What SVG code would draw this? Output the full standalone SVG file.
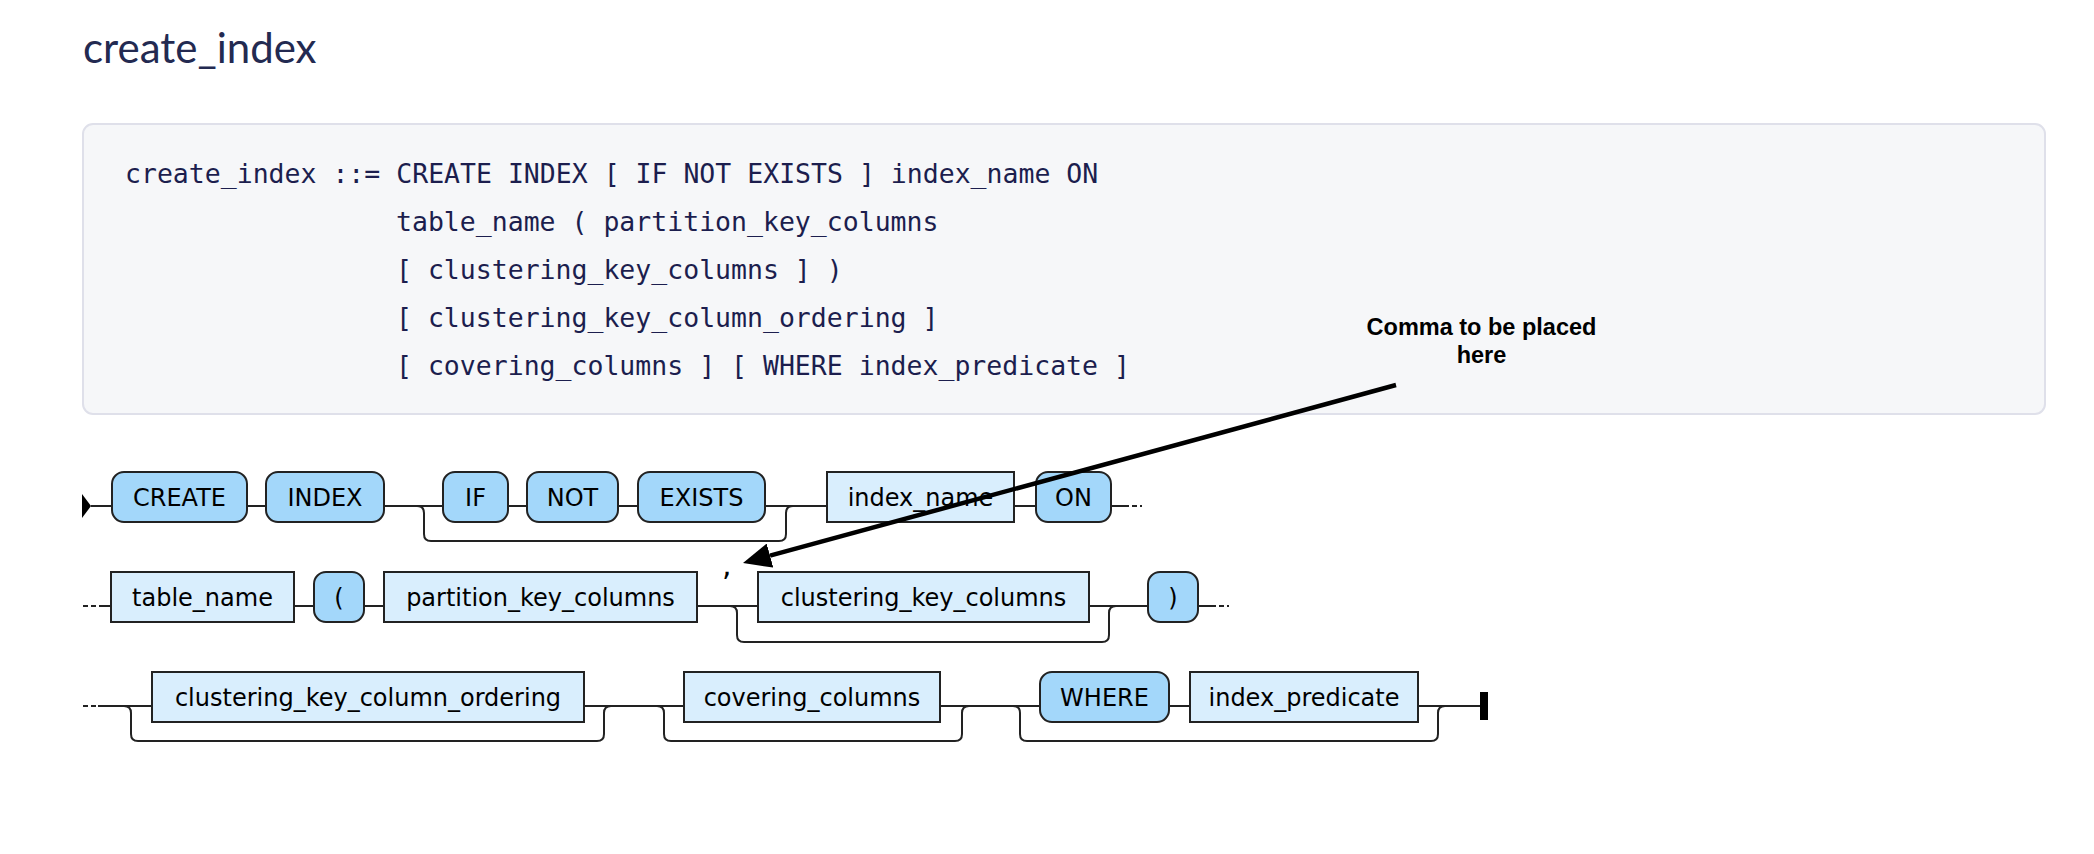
<svg xmlns="http://www.w3.org/2000/svg" width="2094" height="854" viewBox="0 0 2094 854">
<style>
.title{font-family:Lato,"Open Sans","Noto Sans",sans-serif;font-size:42px;fill:#232a51}
.code{font-family:"DejaVu Sans Mono","Liberation Mono",monospace;font-size:26.5px;fill:#1c1e4e}
.term{fill:#a3d7fa;stroke:#222;stroke-width:2}
.nonterm{fill:#d9eefd;stroke:#222;stroke-width:2}
.lbl{font-family:"DejaVu Sans",Verdana,sans-serif;font-size:24px;fill:#000;text-anchor:middle}
.wire{fill:none;stroke:#222;stroke-width:2}
.dash{fill:none;stroke:#222;stroke-width:2;stroke-dasharray:5 3}
.note{font-family:"Liberation Sans",Arial,sans-serif;font-weight:bold;font-size:23.5px;fill:#000;text-anchor:middle}
</style>
<defs>
<marker id="ah" viewBox="0 0 28 25" refX="0" refY="12.5" markerWidth="28" markerHeight="25" markerUnits="userSpaceOnUse" orient="auto">
<path d="M0,0 L28,12.5 L0,25 z" fill="#000"/>
</marker>
</defs>
<rect width="2094" height="854" fill="#fff"/>
<text class="title" x="83" y="63">create_index</text>
<g id="grammar">
<rect x="83" y="124" width="1962" height="290" rx="10" fill="#f6f7f9" stroke="#dfe0ea" stroke-width="2"/>
<text class="code" x="125" y="182.7">create_index ::= CREATE INDEX [ IF NOT EXISTS ] index_name ON</text>
<text class="code" x="396" y="230.7">table_name ( partition_key_columns</text>
<text class="code" x="396" y="278.7">[ clustering_key_columns ] )</text>
<text class="code" x="396" y="326.7">[ clustering_key_column_ordering ]</text>
<text class="code" x="396" y="374.7">[ covering_columns ] [ WHERE index_predicate ]</text>
</g>
<g id="connectors">
<polygon points="82,494 91,506 82,518" fill="#000"/>
<path class="wire" d="M91 506H112M247 506H266M384 506H443M508 506H527M618 506H638M765 506H827M1014 506H1036M1111 506H1124"/>
<path class="dash" d="M1124 506H1142"/>
<path class="wire" d="M417 506q7 0 7 7V534q0 7 7 7H779q7 0 7 -7V513q0 -7 7 -7"/>
<path class="dash" d="M83 606H99"/>
<path class="wire" d="M99 606H111M294 606H314M364 606H384M697 606H758M1089 606H1148M1198 606H1211"/>
<path class="dash" d="M1211 606H1229"/>
<path class="wire" d="M730 606q7 0 7 7V635q0 7 7 7H1102q7 0 7 -7V613q0 -7 7 -7"/>
<path class="dash" d="M83 706H98"/>
<path class="wire" d="M98 706H152M584 706H684M940 706H1040M1169 706H1190M1418 706H1480"/>
<path class="wire" d="M124 706q7 0 7 7V734q0 7 7 7H597q7 0 7 -7V713q0 -7 7 -7"/>
<path class="wire" d="M657 706q7 0 7 7V734q0 7 7 7H955q7 0 7 -7V713q0 -7 7 -7"/>
<path class="wire" d="M1013 706q7 0 7 7V734q0 7 7 7H1431q7 0 7 -7V713q0 -7 7 -7"/>
<rect x="1480" y="692" width="8" height="28" fill="#000"/>
</g>
<g id="n-create"><rect class="term" x="112" y="472" width="135" height="50" rx="12"/><text class="lbl" x="179.5" y="506">CREATE</text></g>
<g id="n-index"><rect class="term" x="266" y="472" width="118" height="50" rx="12"/><text class="lbl" x="325" y="506">INDEX</text></g>
<g id="n-if"><rect class="term" x="443" y="472" width="65" height="50" rx="12"/><text class="lbl" x="475.5" y="506">IF</text></g>
<g id="n-not"><rect class="term" x="527" y="472" width="91" height="50" rx="12"/><text class="lbl" x="572.5" y="506">NOT</text></g>
<g id="n-exists"><rect class="term" x="638" y="472" width="127" height="50" rx="12"/><text class="lbl" x="701.5" y="506">EXISTS</text></g>
<g id="n-index_name"><rect class="nonterm" x="827" y="472" width="187" height="50"/><text class="lbl" x="920.5" y="506">index_name</text></g>
<g id="n-on"><rect class="term" x="1036" y="472" width="75" height="50" rx="12"/><text class="lbl" x="1073.5" y="506">ON</text></g>
<g id="n-table_name"><rect class="nonterm" x="111" y="572" width="183" height="50"/><text class="lbl" x="202.5" y="606">table_name</text></g>
<g id="n-lparen"><rect class="term" x="314" y="572" width="50" height="50" rx="12"/><text class="lbl" x="339" y="606">(</text></g>
<g id="n-partition"><rect class="nonterm" x="384" y="572" width="313" height="50"/><text class="lbl" x="540.5" y="606">partition_key_columns</text></g>
<g id="n-clustering"><rect class="nonterm" x="758" y="572" width="331" height="50"/><text class="lbl" x="923.5" y="606">clustering_key_columns</text></g>
<g id="n-rparen"><rect class="term" x="1148" y="572" width="50" height="50" rx="12"/><text class="lbl" x="1173" y="606">)</text></g>
<g id="n-ordering"><rect class="nonterm" x="152" y="672" width="432" height="50"/><text class="lbl" x="368" y="706">clustering_key_column_ordering</text></g>
<g id="n-covering"><rect class="nonterm" x="684" y="672" width="256" height="50"/><text class="lbl" x="812" y="706">covering_columns</text></g>
<g id="n-where"><rect class="term" x="1040" y="672" width="129" height="50" rx="12"/><text class="lbl" x="1104.5" y="706">WHERE</text></g>
<g id="n-predicate"><rect class="nonterm" x="1190" y="672" width="228" height="50"/><text class="lbl" x="1304" y="706">index_predicate</text></g>
<g id="annotation">
<text class="note" x="1481.5" y="335">Comma to be placed</text>
<text class="note" x="1481.5" y="363.3">here</text>
<line x1="1396" y1="385" x2="770" y2="555.6" stroke="#000" stroke-width="4.5" marker-end="url(#ah)"/>
<text x="722" y="575" font-family="DejaVu Sans,Verdana,sans-serif" font-size="30" fill="#000">,</text>
</g>
</svg>
